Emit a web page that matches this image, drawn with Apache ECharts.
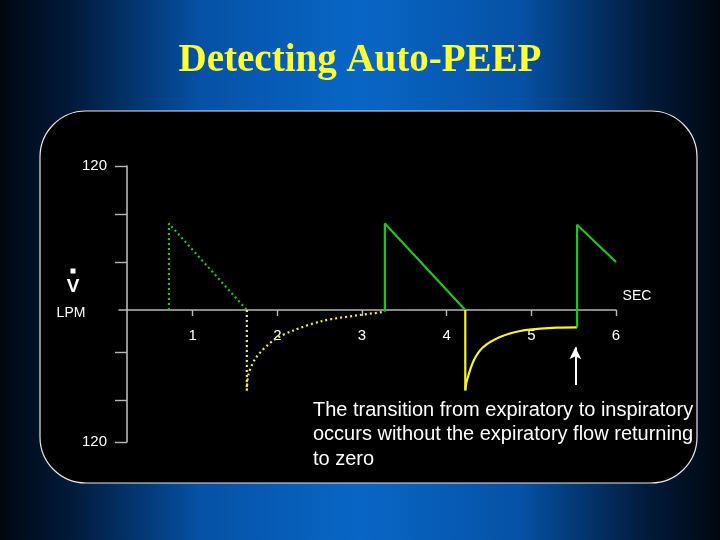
<!DOCTYPE html>
<html>
<head>
<meta charset="utf-8">
<script src="https://cdn.jsdelivr.net/npm/echarts@6/dist/echarts.min.js"></script>
<style>html,body{margin:0;padding:0;background:#000;}#chart{width:720px;height:540px;}</style>
</head>
<body>
<div id="chart"></div>
<script>
// ---- data (time in seconds, flow in LPM; negative = expiratory) ----
const xTickValues = [1, 2, 3, 4, 5, 6];
const yTickValues = [120, 80, 40, -35, -75, -110];
const yLabelValues = [120, -110];
const yLabelText = ['120', '120'];
const greenDotted = [[0.72, 0], [0.72, 72], [1.64, 0]];
const yellowDottedDrop = [[1.64, 0], [1.64, -67]];
const yellowDottedCurve = [[1.64, -67], [1.66, -53.5], [1.75, -39.5], [1.95, -25.5], [2.19, -17], [2.54, -9], [2.94, -4.5], [3.27, -1.5]];
const greenSolid1 = [[3.27, -1.5], [3.27, 72], [4.22, 0]];
const yellowSolidDrop = [[4.22, 0], [4.22, -67]];
const yellowSolidCurve = [[4.22, -67], [4.24, -58.5], [4.32, -42], [4.43, -31], [4.63, -22.5], [4.87, -17.5], [5.11, -15.5], [5.30, -14.7], [5.54, -14.5]];
const greenSolid2 = [[5.54, -14.5], [5.54, 71], [6.0, 40]];
const arrowFrom = [5.52, -62.5];
const arrowTo = [5.52, -31];
const noteLines = ['The transition from expiratory to inspiratory', 'occurs without the expiratory flow returning', 'to zero'];

const GREEN = '#22c322';
const YELLOW = '#f4f42c';
const GREY = '#b8b8b8';
const SANS = '"Liberation Sans", Arial, sans-serif';
const X_MIN = 0.13, X_MAX = 6.0;

function lineSeries(data, color, dotted, smooth) {
  return {
    type: 'line', data: data, symbol: 'none', smooth: smooth ? 0.3 : false,
    xAxisIndex: 0, yAxisIndex: 0,
    lineStyle: { color: color, width: 2.2, type: dotted ? [2, 3] : 'solid' },
    z: 5, silent: true
  };
}

const chart = echarts.init(document.getElementById('chart'), null, { renderer: 'canvas' });
chart.setOption({
  animation: false,
  grid: [
    { left: 119, right: 104, top: 166, bottom: 98, containLabel: false },
    { left: 119, right: 104, top: 166, bottom: 230, containLabel: false }
  ],
  xAxis: [
    { type: 'value', gridIndex: 0, min: X_MIN, max: X_MAX, show: false },
    {
      type: 'value', gridIndex: 1, min: X_MIN, max: X_MAX, position: 'bottom',
      axisLine: { onZero: false, lineStyle: { color: GREY, width: 1.6 } },
      axisTick: { customValues: xTickValues, length: 6, lineStyle: { color: GREY, width: 1.4 } },
      axisLabel: { customValues: xTickValues, color: '#ffffff', fontSize: 15, fontFamily: SANS, margin: 18 },
      splitLine: { show: false }
    }
  ],
  yAxis: [
    {
      type: 'value', gridIndex: 0, min: -110, max: 120, offset: -8,
      axisLine: { show: true, onZero: false, lineStyle: { color: GREY, width: 1.6 } },
      axisTick: { show: true, customValues: yTickValues, length: 12, lineStyle: { color: GREY, width: 1.4 } },
      axisLabel: {
        customValues: yLabelValues, color: '#ffffff', fontSize: 15, fontFamily: SANS, margin: 20,
        formatter: function (v) { return yLabelText[yLabelValues.indexOf(v)] || ''; }
      },
      splitLine: { show: false }
    },
    { type: 'value', gridIndex: 1, min: 0, max: 120, show: false }
  ],
  series: [
    lineSeries(greenDotted, GREEN, true, false),
    lineSeries(yellowDottedDrop, YELLOW, true, false),
    lineSeries(yellowDottedCurve, YELLOW, true, true),
    lineSeries(greenSolid1, GREEN, false, false),
    lineSeries(yellowSolidDrop, YELLOW, false, false),
    lineSeries(yellowSolidCurve, YELLOW, false, true),
    Object.assign(lineSeries(greenSolid2, GREEN, false, false), {
      markLine: {
        silent: true, symbol: ['none', 'arrow'], symbolSize: [9, 12],
        label: { show: false },
        lineStyle: { color: '#ffffff', width: 2, type: 'solid' },
        data: [[{ coord: arrowFrom }, { coord: arrowTo }]]
      }
    })
  ],
  graphic: [
    {
      type: 'rect', z: -100, silent: true,
      shape: { x: 0, y: 0, width: 720, height: 540 },
      style: {
        fill: {
          type: 'linear', x: 0, y: 0, x2: 1, y2: 0,
          colorStops: [
            { offset: 0, color: '#000810' },
            { offset: 0.1, color: '#021a3a' },
            { offset: 0.28, color: '#0552a6' },
            { offset: 0.5, color: '#0866c6' },
            { offset: 0.72, color: '#0552a6' },
            { offset: 0.9, color: '#021a3a' },
            { offset: 1, color: '#000810' }
          ]
        }
      }
    },
    {
      type: 'rect', z: -90, silent: true,
      shape: { x: 40, y: 111, width: 657, height: 372, r: 46 },
      style: { fill: '#000000', stroke: '#e8e8e8', lineWidth: 1.2 }
    },
    {
      type: 'text', z: 10, silent: true, x: 360, y: 61,
      style: {
        text: 'Detecting Auto-PEEP', fill: '#ffff33',
        font: 'bold 39px "Liberation Serif", "Times New Roman", serif',
        textAlign: 'center', textVerticalAlign: 'middle'
      }
    },
    {
      type: 'rect', z: 10, silent: true,
      shape: { x: 70.5, y: 268.5, width: 5, height: 5 },
      style: { fill: '#ffffff' }
    },
    {
      type: 'text', z: 10, silent: true, x: 73, y: 287,
      style: { text: 'V', fill: '#ffffff', font: 'bold 19px ' + SANS, textAlign: 'center', textVerticalAlign: 'middle' }
    },
    {
      type: 'text', z: 10, silent: true, x: 71, y: 313,
      style: { text: 'LPM', fill: '#ffffff', font: '14px ' + SANS, textAlign: 'center', textVerticalAlign: 'middle' }
    },
    {
      type: 'text', z: 10, silent: true, x: 637, y: 296,
      style: { text: 'SEC', fill: '#ffffff', font: '14px ' + SANS, textAlign: 'center', textVerticalAlign: 'middle' }
    },
    {
      type: 'text', z: 10, silent: true, x: 313, y: 398,
      style: {
        text: noteLines.join('\n'), fill: '#ffffff', font: '20px ' + SANS,
        lineHeight: 24.5, textAlign: 'left', textVerticalAlign: 'top'
      }
    }
  ]
});
</script>
</body>
</html>
